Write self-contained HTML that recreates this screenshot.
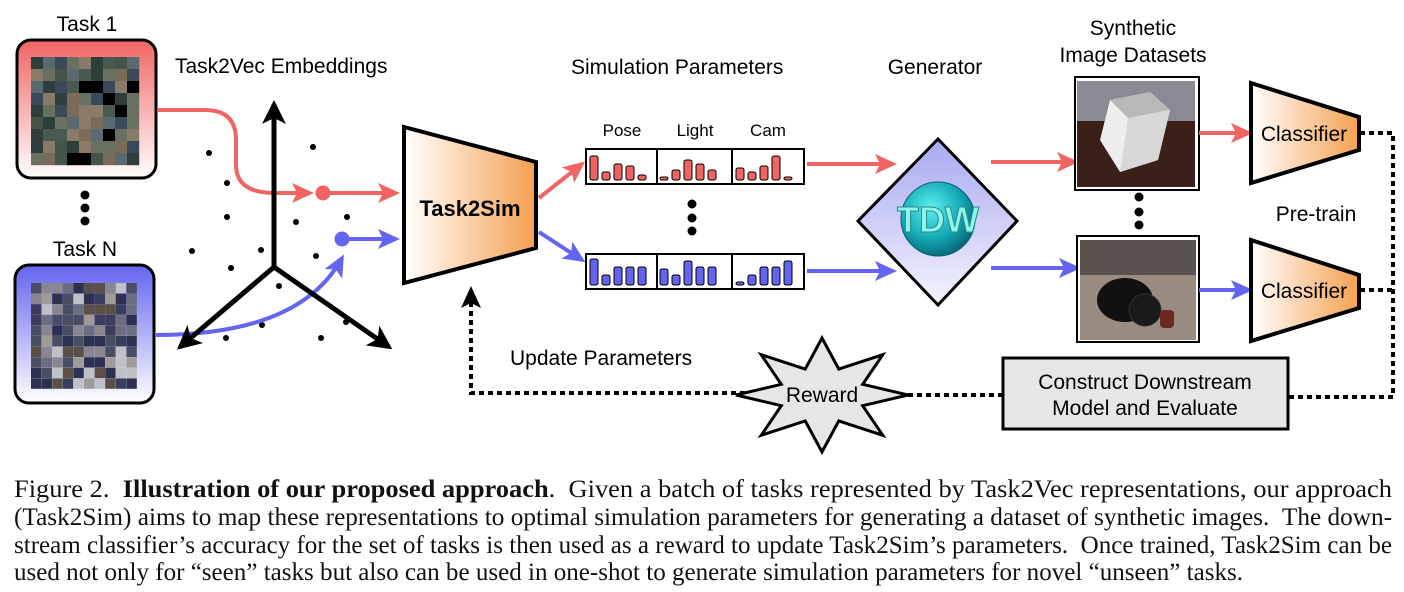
<!DOCTYPE html>
<html><head><meta charset="utf-8">
<style>
html,body{margin:0;padding:0;background:#fff;width:1404px;height:592px;overflow:hidden}
svg{position:absolute;left:0;top:0}
svg text{font-family:"Liberation Sans",sans-serif}
.ln{position:absolute;left:14px;font-family:"Liberation Serif",serif;font-size:25px;white-space:nowrap;color:#111;transform-origin:0 0;line-height:28px}
</style></head><body>
<svg width="1404" height="592" viewBox="0 0 1404 592" xmlns="http://www.w3.org/2000/svg">
<defs>
<linearGradient id="gr" x1="0" y1="0" x2="0" y2="1"><stop offset="0" stop-color="#f06464"/><stop offset="1" stop-color="#fff"/></linearGradient>
<linearGradient id="gb" x1="0" y1="0" x2="0" y2="1"><stop offset="0" stop-color="#6464f0"/><stop offset="1" stop-color="#fff"/></linearGradient>
<linearGradient id="go" x1="0" y1="0" x2="1" y2="0"><stop offset="0" stop-color="#fff"/><stop offset="1" stop-color="#f5a050"/></linearGradient>
<linearGradient id="gd" x1="0" y1="0" x2="0" y2="1"><stop offset="0" stop-color="#a8a8f0"/><stop offset="1" stop-color="#f4f4ff"/></linearGradient>
<radialGradient id="gs" cx="0.4" cy="0.35" r="0.7"><stop offset="0" stop-color="#5ff0f0"/><stop offset="0.6" stop-color="#12a8b4"/><stop offset="1" stop-color="#086070"/></radialGradient>
<marker id="ar" markerWidth="22" markerHeight="22" refX="18" refY="11" orient="auto" markerUnits="userSpaceOnUse" viewBox="0 0 22 22"><path d="M0,1 L22,11 L0,21 L5,11z" fill="#f06464"/></marker>
<marker id="ab" markerWidth="22" markerHeight="22" refX="18" refY="11" orient="auto" markerUnits="userSpaceOnUse" viewBox="0 0 22 22"><path d="M0,1 L22,11 L0,21 L5,11z" fill="#6464f0"/></marker>
<marker id="ak" markerWidth="26" markerHeight="26" refX="20" refY="13" orient="auto" markerUnits="userSpaceOnUse" viewBox="0 0 26 26"><path d="M0,1 L24,13 L0,25 L6,13z" fill="#000"/></marker>
<marker id="ak2" markerWidth="22" markerHeight="22" refX="18" refY="11" orient="auto" markerUnits="userSpaceOnUse" viewBox="0 0 22 22"><path d="M0,1 L22,11 L0,21 L5,11z" fill="#000"/></marker>
</defs>

<text x="87" y="31" font-size="21" text-anchor="middle">Task 1</text>
<rect x="17" y="40" width="139" height="138" rx="14" fill="url(#gr)" stroke="#000" stroke-width="3"/>
<g id="m1"></g>
<circle cx="85" cy="195" r="4.5"/><circle cx="85" cy="208" r="4.5"/><circle cx="85" cy="221" r="4.5"/>
<text x="85" y="256" font-size="21" text-anchor="middle">Task N</text>
<rect x="15" y="265" width="139" height="138" rx="14" fill="url(#gb)" stroke="#000" stroke-width="3"/>
<g id="m2"></g>

<text x="175" y="73" font-size="21">Task2Vec Embeddings</text>
<g fill="#000">
<circle cx="209" cy="153" r="3"/><circle cx="227" cy="183" r="3"/><circle cx="227" cy="217" r="3"/><circle cx="192" cy="251" r="3"/><circle cx="261" cy="250" r="3"/><circle cx="231" cy="268" r="3"/><circle cx="279" cy="286" r="3"/><circle cx="313" cy="147" r="3"/><circle cx="296" cy="222" r="3"/><circle cx="347" cy="217" r="3"/><circle cx="316" cy="256" r="3"/><circle cx="262" cy="325" r="3"/><circle cx="226" cy="338" r="3"/><circle cx="321" cy="338" r="3"/><circle cx="346" cy="322" r="3"/>
</g>
<path d="M158,110 L205,110 Q236,110 236,140 L236,165 Q236,193 275,193 L310,193" fill="none" stroke="#f06464" stroke-width="4" marker-end="url(#ar)"/>
<circle cx="323" cy="193" r="7.5" fill="#f06464"/>
<path d="M323,193 L396,193" fill="none" stroke="#f06464" stroke-width="4" marker-end="url(#ar)"/>
<path d="M156,335 Q300,335 342,258" fill="none" stroke="#6464f0" stroke-width="4" marker-end="url(#ab)"/>
<circle cx="342" cy="239" r="7.5" fill="#6464f0"/>
<path d="M342,239 L396,239" fill="none" stroke="#6464f0" stroke-width="4" marker-end="url(#ab)"/>
<g stroke="#000" stroke-width="5" fill="none">
<path d="M274,267 L274,104" marker-end="url(#ak)"/>
<path d="M274,267 L180,347" marker-end="url(#ak)"/>
<path d="M274,267 L389,347" marker-end="url(#ak)"/>
</g>

<polygon points="404,127 536,162 536,248 404,283" fill="url(#go)" stroke="#000" stroke-width="4"/>
<text x="470" y="216" font-size="22" font-weight="bold" text-anchor="middle">Task2Sim</text>
<path d="M539,198 L582,164" stroke="#f06464" stroke-width="4" marker-end="url(#ar)"/>
<path d="M539,232 L582,260" stroke="#6464f0" stroke-width="4" marker-end="url(#ab)"/>

<text x="571" y="74" font-size="21">Simulation Parameters</text>
<text x="622" y="136" font-size="17" text-anchor="middle">Pose</text>
<text x="695" y="136" font-size="17" text-anchor="middle">Light</text>
<text x="768" y="136" font-size="17" text-anchor="middle">Cam</text>
<g id="bars"></g>
<circle cx="692" cy="204" r="4.5"/><circle cx="692" cy="218" r="4.5"/><circle cx="692" cy="231" r="4.5"/>
<path d="M807,164 L893,164" stroke="#f06464" stroke-width="4" marker-end="url(#ar)"/>
<path d="M807,271 L893,271" stroke="#6464f0" stroke-width="4" marker-end="url(#ab)"/>

<text x="935" y="74" font-size="21" text-anchor="middle">Generator</text>
<polygon points="938,139 1017,221 938,305 858,221" fill="url(#gd)" stroke="#000" stroke-width="3"/>
<circle cx="938" cy="219" r="37" fill="url(#gs)" stroke="#0a6070" stroke-width="1"/>
<text x="938" y="232" font-size="36" font-weight="bold" text-anchor="middle" fill="#8ff5e8" stroke="#2a8a8a" stroke-width="1">TDW</text>
<path d="M991,162 L1075,162" stroke="#f06464" stroke-width="4" marker-end="url(#ar)"/>
<path d="M991,268 L1077,268" stroke="#6464f0" stroke-width="4" marker-end="url(#ab)"/>

<text x="1133" y="35" font-size="21" text-anchor="middle">Synthetic</text>
<text x="1133" y="62" font-size="21" text-anchor="middle">Image Datasets</text>
<rect x="1075" y="77" width="124" height="113" fill="#fff" stroke="#000" stroke-width="2"/>
<rect x="1077" y="81" width="118" height="106" fill="#3a2018"/>
<rect x="1077" y="81" width="118" height="40" fill="#8a8a92"/>
<polygon points="1110,100 1150,92 1170,110 1158,160 1120,172 1100,140" fill="#eeeeee"/>
<polygon points="1110,100 1150,92 1170,110 1128,118" fill="#b8b8b8"/>
<polygon points="1120,172 1128,118 1170,110 1158,160" fill="#d8d8d8"/>
<rect x="1077" y="236" width="122" height="106" fill="#fff" stroke="#000" stroke-width="2"/>
<rect x="1080" y="240" width="116" height="100" fill="#9a8b80"/>
<rect x="1080" y="240" width="116" height="35" fill="#5a524e"/>
<ellipse cx="1125" cy="300" rx="28" ry="22" fill="#111"/>
<circle cx="1145" cy="310" r="16" fill="#1a1a1a" stroke="#333"/>
<rect x="1160" y="310" width="14" height="18" rx="4" fill="#6a2a20"/>
<circle cx="1139" cy="197" r="4.5"/><circle cx="1139" cy="212" r="4.5"/><circle cx="1139" cy="225" r="4.5"/>
<path d="M1199,133 L1249,133" stroke="#f06464" stroke-width="4" marker-end="url(#ar)"/>
<path d="M1199,290 L1249,290" stroke="#6464f0" stroke-width="4" marker-end="url(#ab)"/>

<polygon points="1251,83 1359,117 1359,150 1251,183" fill="url(#go)" stroke="#000" stroke-width="4"/>
<text x="1304" y="141" font-size="21" text-anchor="middle">Classifier</text>
<polygon points="1251,240 1359,275 1359,308 1251,341" fill="url(#go)" stroke="#000" stroke-width="4"/>
<text x="1304" y="298" font-size="21" text-anchor="middle">Classifier</text>
<text x="1316" y="221" font-size="21" text-anchor="middle">Pre-train</text>

<g stroke="#000" stroke-width="4" stroke-dasharray="5,4" fill="none">
<path d="M1360,133 L1393,133 L1393,397 L1288,397"/>
<path d="M1360,290 L1393,290"/>
<path d="M1003,395 L900,395"/>
<path d="M745,393 L471,393 L471,300" />
</g>
<path d="M471,292 L471,290" stroke="#000" stroke-width="4" marker-end="url(#ak2)"/>
<rect x="1003" y="358" width="285" height="71" fill="#e6e6e6" stroke="#000" stroke-width="3"/>
<text x="1145" y="389" font-size="21" text-anchor="middle">Construct Downstream</text>
<text x="1145" y="415" font-size="21" text-anchor="middle">Model and Evaluate</text>
<polygon id="star" fill="#e6e6e6" stroke="#000" stroke-width="3"/>
<text x="822" y="402" font-size="21" text-anchor="middle">Reward</text>
<text x="510" y="365" font-size="21">Update Parameters</text>
</svg>
<div class="ln" data-w="1378" style="top:476px">Figure 2. &nbsp;<b>Illustration of our proposed approach</b>. &nbsp;Given a batch of tasks represented by Task2Vec representations, our approach</div>
<div class="ln" data-w="1378" style="top:504px">(Task2Sim) aims to map these representations to optimal simulation parameters for generating a dataset of synthetic images. &nbsp;The down-</div>
<div class="ln" data-w="1378" style="top:532px">stream classifier’s accuracy for the set of tasks is then used as a reward to update Task2Sim’s parameters. &nbsp;Once trained, Task2Sim can be</div>
<div class="ln" data-w="1229" style="top:559px">used not only for “seen” tasks but also can be used in one-shot to generate simulation parameters for novel “unseen” tasks.</div>
<script>
var NS="http://www.w3.org/2000/svg";
document.querySelectorAll(".ln").forEach(function(d){var w=d.getBoundingClientRect().width;d.style.transform="scaleX("+(parseFloat(d.getAttribute("data-w"))/w)+")";});
function R(p,x,y,w,h,c){var r=document.createElementNS(NS,"rect");r.setAttribute("x",x);r.setAttribute("y",y);r.setAttribute("width",w);r.setAttribute("height",h);r.setAttribute("fill",c);p.appendChild(r);}
var s=7;function rnd(){s=(s*9301+49297)%233280;return s/233280;}
var m1=document.getElementById("m1"),m2=document.getElementById("m2");
var c1=["#4a5a50","#3a4a58","#6a7060","#8a7a68","#2e3e3a","#5a6a70","#7a6a58","#445548","#000"];
var c2=["#4a4e62","#6a6e80","#8a8690","#2e3050","#a09a98","#5a5048","#3a3e5a","#c0c0c8"];
for(var i=0;i<9;i++)for(var j=0;j<9;j++){R(m1,31+j*12,57+i*12,12.2,12.2,c1[Math.floor(rnd()*c1.length)]);}
for(var i=0;i<10;i++)for(var j=0;j<10;j++){R(m2,31+j*10.6,283+i*10.6,10.4,10.4,c2[Math.floor(rnd()*c2.length)]);}
var b=document.getElementById("bars");
function box(y,col,hs){var r=document.createElementNS(NS,"rect");r.setAttribute("x",586);r.setAttribute("y",y);r.setAttribute("width",218);r.setAttribute("height",35);r.setAttribute("fill","#fff");r.setAttribute("stroke","#000");r.setAttribute("stroke-width",2);b.appendChild(r);
[657,732].forEach(function(x){R(b,x-1,y,2,35,"#000");});
var xs=[590,602,614,626,638,660,672,684,696,708,736,748,760,772,784];
for(var k=0;k<15;k++){var h=hs[k];var rr=document.createElementNS(NS,"rect");rr.setAttribute("x",xs[k]);rr.setAttribute("y",y+31-h);rr.setAttribute("width",8);rr.setAttribute("height",h);rr.setAttribute("rx",2);rr.setAttribute("fill",col);rr.setAttribute("stroke","#000");rr.setAttribute("stroke-width",1);b.appendChild(rr);}}
box(149,"#f06464",[24,8,16,14,5,3,10,20,16,10,12,8,14,24,3]);
box(254,"#6464f0",[26,10,18,18,18,16,10,24,18,18,3,10,18,18,24]);
var st=document.getElementById("star"),pts=[];for(var k=0;k<16;k++){var a=-Math.PI/2+k*Math.PI/8;var rx=k%2?44:86,ry=k%2?28:57;pts.push((822+rx*Math.cos(a)).toFixed(1)+","+(395+ry*Math.sin(a)).toFixed(1));}
st.setAttribute("points",pts.join(" "));
</script>
</body></html>
